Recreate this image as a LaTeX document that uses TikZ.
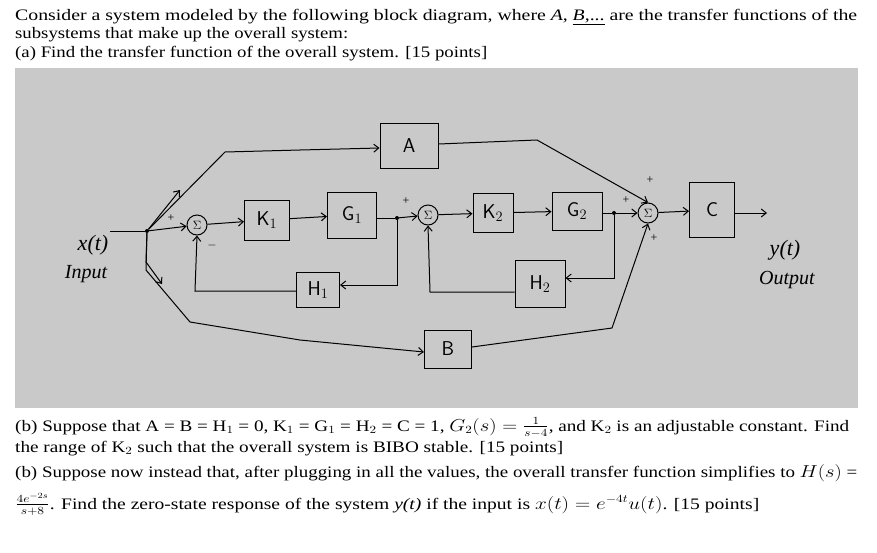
\documentclass[tikz,border=0pt]{standalone}
\usepackage{fontspec}
\setmainfont{Liberation Serif}
\usepackage{graphicx}
\usetikzlibrary{arrows.meta}
\begin{document}
\begin{tikzpicture}[x=1pt,y=-1pt,
  blk/.style={draw,line width=1pt,minimum width=#1,inner sep=0pt,font=\fontsize{20}{20}\sffamily},
  blk/.default=44pt,
  sumc/.style={draw,circle,line width=1pt,minimum size=20pt,inner sep=0pt,font=\fontsize{13}{13}\selectfont},
  ln/.style={line width=1pt},
  ar/.style={ln,-{Straight Barb[length=5pt,width=8pt]}},
  txt/.style={anchor=base west,inner sep=0pt,font=\fontsize{16}{16}\selectfont},
  sg/.style={font=\fontsize{12}{12}\selectfont,inner sep=0pt},
  dot/.style={circle,fill,inner sep=0pt,minimum size=4pt}]
\useasboundingbox (0,0) rectangle (877,552);
\fill[white] (0,0) rectangle (877,552);
\fill[black!21] (15,68) rectangle (858,408);
% top text
\node[txt] (t1) at (15,20) {\resizebox{842pt}{\height}{Consider a system modeled by the following block diagram, where \textit{A}, \underline{\textit{B},...} are the transfer functions of the}};
\node[txt] (t2) at (15,38) {\resizebox{333pt}{\height}{subsystems that make up the overall system:}};
\node[txt] (t3) at (15,57) {\resizebox{472pt}{\height}{(a) Find the transfer function of the overall system. [15 points]}};
% blocks
\node[sumc] (s1) at (197,225) {$\Sigma$};
\node[blk=45pt,minimum height=40pt] (k1) at (267,220) {K$_1$};
\node[blk=49pt,minimum height=46pt] (g1) at (352,215) {G$_1$};
\node[sumc] (s2) at (428,215) {$\Sigma$};
\node[blk=40pt,minimum height=39pt] (k2) at (493,213) {K$_2$};
\node[blk=50pt,minimum height=38pt] (g2) at (577,211) {G$_2$};
\node[sumc] (s3) at (648,213) {$\Sigma$};
\node[blk=45pt,minimum height=55pt] (c) at (712,210) {C};
\node[blk=43pt,minimum height=35pt] (h1) at (318,290) {H$_1$};
\node[blk=50pt,minimum height=47pt] (h2) at (540,284) {H$_2$};
\node[blk=58pt,minimum height=45pt] (a) at (409,146) {A};
\node[blk=47pt,minimum height=38pt] (b) at (448,349) {B};
\node[dot] (j0) at (147,231) {};
\node[dot] (j1) at (397,218) {};
\node[dot] (j2) at (614,213) {};
\coordinate (in) at (110,231);
\coordinate (out) at (767,213);
% connections
\draw[ln] (in) -- (j0);
\draw[ar] (j0) -- (s1);
\draw[ar] (s1) -- (k1);
\draw[ar] (k1) -- (g1);
\draw[ln] (g1.east|-j1) -- (j1);
\draw[ar] (j1) -- (s2);
\draw[ar] (s2) -- (k2);
\draw[ar] (k2) -- (g2);
\draw[ln] (g2.east|-j2) -- (j2);
\draw[ar] (j2) -- (s3);
\draw[ar] (s3) -- (c);
\draw[ar] (c.east|-out) -- (out);
\draw[ar] (j1) -- (397,285) -- (h1.east|-0,285);
\draw[ar] (h1.west|-0,291) -- (195,291) -- (s1.south);
\draw[ar] (j2) -- (614,278) -- (h2.east|-0,278);
\draw[ar] (h2.west|-0,292) -- (430,292) -- (s2.south);
\draw[ln] (j0) -- (225,152) -- (300,150);
\draw[ar] (300,150) -- (a.west|-0,148);
\draw[ar] (j0) -- (180,190);
\draw[ar] (a.east|-0,144) -- (537,140) -- (s3.north);
\draw[ln] (j0) -- (146,270) -- (190,322) -- (300,340);
\draw[ar] (300,340) -- (b.west|-0,352);
\draw[ar] (j0) -- (146,262) -- (162,284);
\draw[ar] (b.east|-0,347) -- (612,328) -- (s3.south);
% signs
\node[sg] (p1) at (171,218) {+};
\node[sg] (m1) at (212,245) {$-$};
\node[sg] (p2) at (406,201) {+};
\node[sg] (p3) at (650,180) {+};
\node[sg] (p4) at (626,200) {+};
\node[sg] (p5) at (654,238) {+};
\node[font=\fontsize{22}{22}\selectfont\itshape] (x) at (93,245) {x(t)};
\node[font=\fontsize{20}{20}\selectfont\itshape] (inp) at (86,274) {Input};
\node[font=\fontsize{22}{22}\selectfont\itshape] (y) at (785,250) {y(t)};
\node[font=\fontsize{20}{20}\selectfont\itshape] (outp) at (787,280) {Output};
% bottom text
\node[txt] (b1) at (15,431) {\resizebox{834pt}{\height}{(b) Suppose that A = B = H$_1$ = 0, K$_1$ = G$_1$ = H$_2$ = C = 1, $G_2(s)=\frac{1}{s-4}$, and K$_2$ is an adjustable constant. Find}};
\node[txt] (b2) at (15,452) {\resizebox{548pt}{\height}{the range of K$_2$ such that the overall system is BIBO stable. [15 points]}};
\node[txt] (b3) at (15,477) {\resizebox{842pt}{\height}{(b) Suppose now instead that, after plugging in all the values, the overall transfer function simplifies to $H(s)$ =}};
\node[txt] (b4) at (15,509) {\resizebox{744pt}{\height}{$\frac{4e^{-2s}}{s+8}$. Find the zero-state response of the system \textit{y(t)} if the input is $x(t)=e^{-4t}u(t)$. [15 points]}};
\end{tikzpicture}
\end{document}
